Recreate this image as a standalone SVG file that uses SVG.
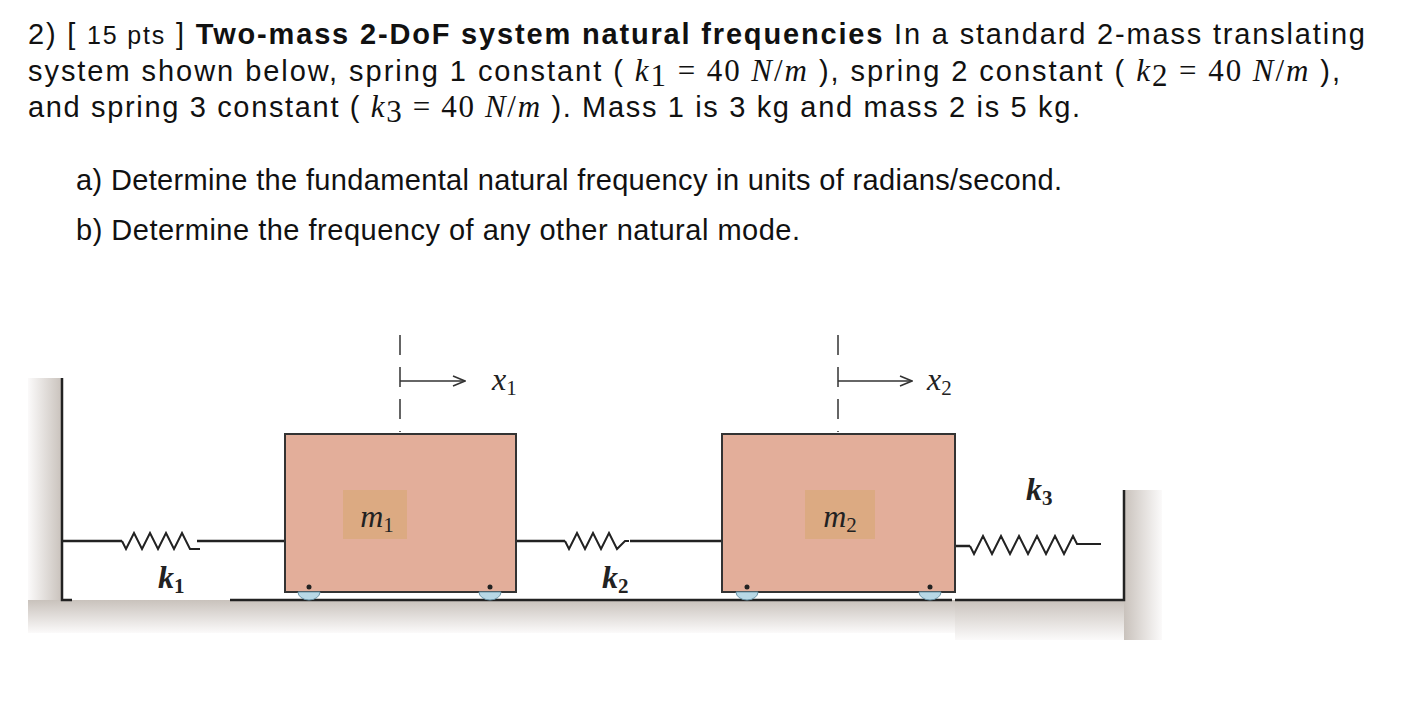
<svg xmlns="http://www.w3.org/2000/svg" width="1428" height="726" viewBox="0 0 1428 726">
<defs>
<linearGradient id="fl" x1="0" y1="0" x2="0" y2="1"><stop offset="0" stop-color="#c9c2bc"/><stop offset="1" stop-color="#fbfafa"/></linearGradient>
<linearGradient id="wl" x1="1" y1="0" x2="0" y2="0"><stop offset="0" stop-color="#c9c2bc"/><stop offset="1" stop-color="#fbfafa"/></linearGradient>
<linearGradient id="wr" x1="0" y1="0" x2="1" y2="0"><stop offset="0" stop-color="#c9c2bc"/><stop offset="1" stop-color="#fbfafa"/></linearGradient>
<marker id="ar" markerWidth="14" markerHeight="12" refX="13" refY="6" orient="auto" markerUnits="userSpaceOnUse"><path d="M1,1 L13,6 L1,11" fill="none" stroke="#333" stroke-width="1.5"/></marker>
</defs>
<style>
.t{font-family:"Liberation Sans",Arial,sans-serif;font-size:29px;fill:#111}
.m{font-family:"Liberation Serif","Times New Roman",serif;font-style:italic;font-size:31px}
.r{font-family:"Liberation Serif","Times New Roman",serif;font-size:31px}
.lbl{font-family:"Liberation Serif","Times New Roman",serif;font-style:italic;font-size:32px;fill:#222}
.mass{fill:#e3ae9a;stroke:#333;stroke-width:2}
.tag{fill:#dcaa82}
.ln{stroke:#222;stroke-width:2.5;fill:none}
.sp{stroke:#222;stroke-width:2;fill:none}
.dash{stroke:#333;stroke-width:1.5;stroke-dasharray:20,12}
.wh{fill:#b8d8e6;stroke:#6a93a6;stroke-width:1}
</style>
<rect width="1428" height="726" fill="#fff"/>
<text class="t" x="28" y="44" textLength="1337" lengthAdjust="spacing">2)  [ <tspan font-size="25">15 pts</tspan> ]  <tspan font-weight="bold">Two-mass 2-DoF system natural frequencies</tspan>    In a standard 2-mass translating</text>
<text class="t" x="28" y="81" textLength="1312" lengthAdjust="spacing">system shown below,  spring 1 constant ( <tspan class="m">k</tspan><tspan class="r" font-size="19" dy="5">1</tspan><tspan class="r" dy="-5"> = 40 </tspan><tspan class="m">N</tspan><tspan class="r">/</tspan><tspan class="m">m</tspan> ), spring 2 constant ( <tspan class="m">k</tspan><tspan class="r" font-size="19" dy="5">2</tspan><tspan class="r" dy="-5"> = 40 </tspan><tspan class="m">N</tspan><tspan class="r">/</tspan><tspan class="m">m</tspan> ),</text>
<text class="t" x="28" y="117" textLength="1052" lengthAdjust="spacing">and spring 3 constant ( <tspan class="m">k</tspan><tspan class="r" font-size="19" dy="5">3</tspan><tspan class="r" dy="-5"> = 40 </tspan><tspan class="m">N</tspan><tspan class="r">/</tspan><tspan class="m">m</tspan> ).  Mass 1 is 3 kg and mass 2 is 5 kg.</text>
<text class="t" x="76" y="190" font-size="27" textLength="986" lengthAdjust="spacing">a)  Determine the fundamental natural frequency in units of radians/second.</text>
<text class="t" x="76" y="240" font-size="27" textLength="724" lengthAdjust="spacing">b)  Determine the frequency of any other natural mode.</text>

<g id="ground">
<rect x="28" y="378" width="34" height="222" fill="url(#wl)"/>
<rect x="28" y="600" width="927" height="33" fill="url(#fl)"/>
<rect x="955" y="600" width="170" height="40" fill="url(#fl)"/>
<rect x="1124" y="490" width="38" height="150" fill="url(#wr)"/>
<path class="ln" d="M62,378 V600 H72 M230,600 H952 M955,600 H1124 V490"/>
</g>
<g id="connectors">
<path class="ln" d="M62,541 H122"/>
<path class="sp" d="M122,541 l4,8 l8,-16 l8,16 l8,-16 l8,16 l8,-16 l8,16 l8,-16 l8,16 h10"/>
<path class="ln" d="M197,541 H285"/>
<path class="ln" d="M516,541 H565"/>
<path class="sp" d="M565,541 l4,8 l8,-16 l8,16 l8,-16 l8,16 l8,-16 l8,16 l8,-8 h4"/>
<path class="ln" d="M630,541 H722"/>
<path class="ln" d="M955,546 H970"/>
<path class="sp" d="M970,546 l4,8 l9,-18 l9,18 l9,-18 l9,18 l9,-18 l9,18 l9,-18 l9,18 l9,-18 l9,18 l9,-18 l4,8 h12 h12"/>
<path class="dash" d="M400,335 V432"/>
<path d="M400,381 H465" stroke="#333" stroke-width="1.5" marker-end="url(#ar)"/>
<path class="dash" d="M838,335 V432"/>
<path d="M838,381 H912" stroke="#333" stroke-width="1.5" marker-end="url(#ar)"/>
</g>
<g id="m1">
<rect class="mass" x="285" y="434" width="231" height="158"/>
<rect class="tag" x="343" y="490" width="64" height="49"/>
<text class="lbl" x="377" y="527" text-anchor="middle">m<tspan font-size="21" font-style="normal" dy="5">1</tspan></text>
<path class="wh" d="M298,592 a11,8 0 0 0 22,0 z M479,592 a11,8 0 0 0 22,0 z"/>
<circle cx="309" cy="587" r="2.5" fill="#222"/><circle cx="490" cy="587" r="2.5" fill="#222"/>
</g>
<g id="m2">
<rect class="mass" x="722" y="434" width="233" height="158"/>
<rect class="tag" x="805" y="490" width="70" height="49"/>
<text class="lbl" x="840" y="527" text-anchor="middle">m<tspan font-size="21" font-style="normal" dy="5">2</tspan></text>
<path class="wh" d="M736,592 a11,8 0 0 0 22,0 z M919,592 a11,8 0 0 0 22,0 z"/>
<circle cx="747" cy="587" r="2.5" fill="#222"/><circle cx="930" cy="587" r="2.5" fill="#222"/>
</g>
<g id="labels">
<text class="lbl" x="492" y="390">x<tspan font-size="21" font-style="normal" dy="5">1</tspan></text>
<text class="lbl" x="927" y="390">x<tspan font-size="21" font-style="normal" dy="5">2</tspan></text>
<text class="lbl" x="158" y="588" font-weight="bold">k<tspan font-size="21" font-style="normal" dy="5">1</tspan></text>
<text class="lbl" x="602" y="588" font-weight="bold">k<tspan font-size="21" font-style="normal" dy="5">2</tspan></text>
<text class="lbl" x="1026" y="500" font-weight="bold">k<tspan font-size="21" font-style="normal" dy="5">3</tspan></text>
</g>
</svg>
